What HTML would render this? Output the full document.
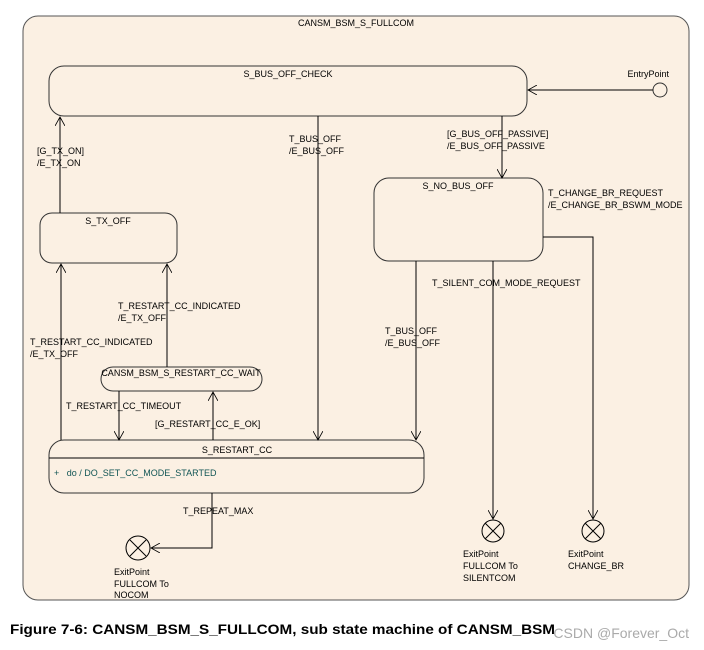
<!DOCTYPE html>
<html><head><style>body{margin:0;background:#fff}svg{display:block}</style></head><body>
<svg width="704" height="650" xmlns="http://www.w3.org/2000/svg" font-family="Liberation Sans, sans-serif" font-size="9">
<defs><marker id="a" markerWidth="10" markerHeight="10" refX="9" refY="5" orient="auto" markerUnits="userSpaceOnUse"><path d="M0,0 L9,5 L0,10" fill="none" stroke="#000" stroke-width="0.8"/></marker></defs>
<rect x="23" y="16" width="666" height="584" rx="15" fill="#fbf0e3" stroke="#555" stroke-width="1"/>
<text x="356" y="26" text-anchor="middle">CANSM_BSM_S_FULLCOM</text>
<g fill="none" stroke="#333" stroke-width="1">
<rect x="49" y="66" width="478" height="50" rx="15"/>
<rect x="374" y="178" width="169" height="83" rx="15"/>
<rect x="40" y="213" width="137" height="50" rx="12"/>
<rect x="101" y="367" width="161" height="24" rx="12"/>
<rect x="49" y="440" width="375" height="53" rx="15"/>
<line x1="49" y1="458" x2="424" y2="458" stroke="#000"/>
<circle cx="660" cy="90" r="7"/>
</g>
<g stroke="#000" stroke-width="1" fill="none" marker-end="url(#a)">
<line x1="653" y1="90" x2="528" y2="90"/>
<line x1="318" y1="116" x2="318" y2="440"/>
<line x1="502" y1="116" x2="502" y2="178"/>
<polyline points="543,237 593,237 593,519"/>
<line x1="493" y1="261" x2="493" y2="519"/>
<line x1="416" y1="261" x2="416" y2="440"/>
<line x1="60" y1="213" x2="60" y2="117"/>
<line x1="61" y1="440" x2="61" y2="264"/>
<line x1="167" y1="367" x2="167" y2="264"/>
<line x1="119" y1="391" x2="119" y2="440"/>
<line x1="213" y1="440" x2="213" y2="392"/>
<polyline points="212,493 212,548 151,548"/>
</g>
<g fill="none" stroke="#000" stroke-width="1">
<circle cx="493" cy="531" r="11"/><path d="M485,523 L501,539 M501,523 L485,539"/>
<circle cx="593" cy="531" r="11"/><path d="M585,523 L601,539 M601,523 L585,539"/>
<circle cx="138" cy="548" r="12"/><path d="M130,540 L146,556 M146,540 L130,556"/>
</g>
<g fill="#000">
<text x="288" y="77" text-anchor="middle">S_BUS_OFF_CHECK</text>
<text x="669" y="77" text-anchor="end">EntryPoint</text>
<text x="289" y="142">T_BUS_OFF</text><text x="289" y="154">/E_BUS_OFF</text>
<text x="447" y="137">[G_BUS_OFF_PASSIVE]</text><text x="447" y="149">/E_BUS_OFF_PASSIVE</text>
<text x="458" y="189" text-anchor="middle">S_NO_BUS_OFF</text>
<text x="548" y="196">T_CHANGE_BR_REQUEST</text><text x="548" y="208">/E_CHANGE_BR_BSWM_MODE</text>
<text x="37" y="154">[G_TX_ON]</text><text x="37" y="166">/E_TX_ON</text>
<text x="108" y="224" text-anchor="middle">S_TX_OFF</text>
<text x="432" y="286">T_SILENT_COM_MODE_REQUEST</text>
<text x="118" y="309">T_RESTART_CC_INDICATED</text><text x="118" y="321">/E_TX_OFF</text>
<text x="385" y="334">T_BUS_OFF</text><text x="385" y="346">/E_BUS_OFF</text>
<text x="30" y="345">T_RESTART_CC_INDICATED</text><text x="30" y="357">/E_TX_OFF</text>
<text x="181" y="376" text-anchor="middle">CANSM_BSM_S_RESTART_CC_WAIT</text>
<text x="66" y="409">T_RESTART_CC_TIMEOUT</text>
<text x="155" y="427">[G_RESTART_CC_E_OK]</text>
<text x="237" y="453" text-anchor="middle">S_RESTART_CC</text>
<text x="54" y="476" fill="#115555">+ &#160;&#160;do / DO_SET_CC_MODE_STARTED</text>
<text x="183" y="514">T_REPEAT_MAX</text>
<text x="114" y="575">ExitPoint</text><text x="114" y="587">FULLCOM To</text><text x="114" y="598">NOCOM</text>
<text x="463" y="557">ExitPoint</text><text x="463" y="569">FULLCOM To</text><text x="463" y="581">SILENTCOM</text>
<text x="568" y="557">ExitPoint</text><text x="568" y="569">CHANGE_BR</text>
</g>
<text x="10" y="634" font-size="14" font-weight="bold" textLength="545" lengthAdjust="spacingAndGlyphs">Figure 7-6: CANSM_BSM_S_FULLCOM, sub state machine of CANSM_BSM</text>
<text x="689" y="638" font-size="14" fill="#aaa" text-anchor="end">CSDN @Forever_Oct</text>
</svg>
</body></html>
